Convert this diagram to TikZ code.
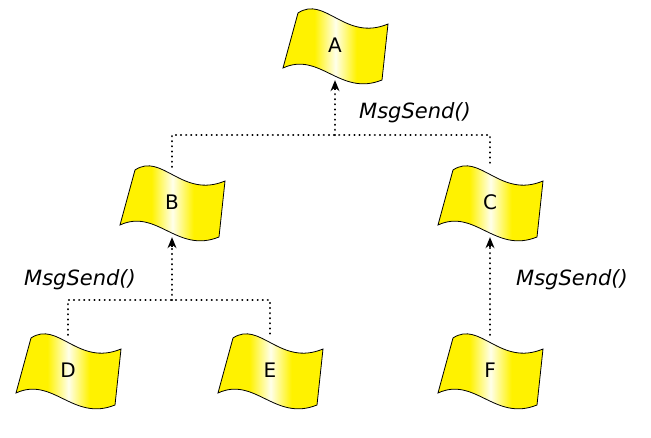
\documentclass[tikz,border=0pt]{standalone}
\usepackage{fontspec}
\setmainfont{DejaVu Sans}
\usetikzlibrary{arrows.meta}
\pgfdeclarehorizontalshading{flagshade}{100bp}{color(0bp)=(yellow!90!orange); color(40bp)=(yellow!90!orange); color(50bp)=(yellow!8); color(60bp)=(yellow!90!orange); color(100bp)=(yellow!90!orange)}
\begin{document}
\begin{tikzpicture}[x=1pt,y=-1pt,
  flagnode/.style={minimum width=80pt,minimum height=70pt,inner sep=0pt,font=\fontsize{20}{24}\selectfont},
  flag/.pic={\shade[draw=black,line width=0.8pt,shading=flagshade]
     (-37,-32) .. controls (-10,-50) and (10,-3) .. (53,-21) -- (47,35)
     .. controls (5,52) and (-15,6) .. (-52,23) -- cycle;},
  link/.style={line width=2.2pt,line cap=round,dash pattern=on 0.1pt off 5pt},
  tip/.style={-{Stealth[length=11pt,width=9pt]}},
  lbl/.style={font=\itshape\fontsize{21}{24}\selectfont}]
\useasboundingbox (0,0) rectangle (651,438);
\foreach \n/\x/\y in {A/335/45,B/172/202,C/490/202,D/68/370,E/270/370,F/490/370}{
  \pic at (\x,\y) {flag};
  \node[flagnode] (\n) at (\x,\y) {\n};
}
\coordinate (jA) at (335,135);
\coordinate (jAl) at (172,135);
\coordinate (jAr) at (490,135);
\coordinate (jB) at (172,300);
\coordinate (jBl) at (68,300);
\coordinate (jBr) at (270,300);
\draw[link] (jA) -- ([yshift=-9pt]A.south);
\draw[tip,line width=1.2pt] ([yshift=-10pt]A.south) -- (A.south);
\draw[link] (B.north) -- (jAl) -- (jAr) -- (C.north);
\draw[link] (jB) -- ([yshift=-9pt]B.south);
\draw[tip,line width=1.2pt] ([yshift=-10pt]B.south) -- (B.south);
\draw[link] (D.north) -- (jBl) -- (jBr) -- (E.north);
\draw[link] (F.north) -- ([yshift=-9pt]C.south);
\draw[tip,line width=1.2pt] ([yshift=-10pt]C.south) -- (C.south);
\node[lbl] at (415,113) {MsgSend()};
\node[lbl] at (80,280) {MsgSend()};
\node[lbl] at (572,280) {MsgSend()};
\end{tikzpicture}
\end{document}
